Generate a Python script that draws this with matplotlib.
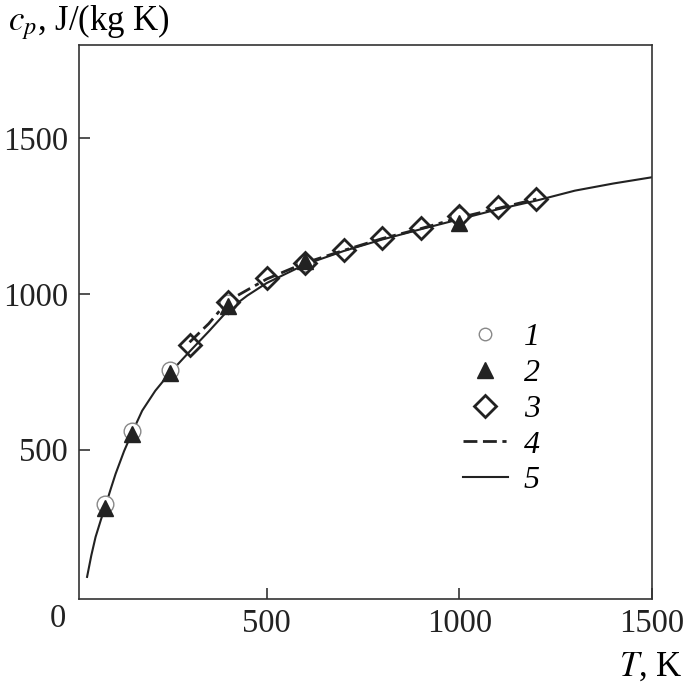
import matplotlib
matplotlib.use("Agg")
import matplotlib.pyplot as plt
from matplotlib.lines import Line2D

plt.rcParams['font.family'] = ['Liberation Serif', 'DejaVu Serif']
plt.rcParams['mathtext.fontset'] = 'stix'

# 1 - circles
t1 = [80, 150, 250, 400, 600, 1000]
cp1 = [325, 560, 755, 970, 1100, 1250]
# 2 - filled triangles
t2 = [80, 150, 250, 400, 600, 1000]
cp2 = [312, 550, 745, 960, 1105, 1228]
# 3 - diamonds
t3 = [300, 400, 500, 600, 700, 800, 900, 1000, 1100, 1200]
cp3 = [835, 975, 1050, 1100, 1142, 1180, 1212, 1252, 1280, 1304]
# 4 - dashed curve
t4 = [300, 350, 400, 500, 600, 700, 800, 900, 1000, 1100, 1200]
cp4 = [845, 905, 978, 1048, 1100, 1140, 1178, 1210, 1245, 1275, 1305]
# 5 - solid curve
t5 = [34, 45, 56, 70, 82, 95, 108, 130, 151, 177, 211, 250, 300, 350, 400, 450,
      500, 600, 700, 800, 900, 1000, 1100, 1200, 1300, 1400, 1500]
cp5 = [91, 160, 219, 275, 320, 372, 422, 495, 555, 625, 689, 748, 815, 880, 948, 995,
       1035, 1095, 1138, 1175, 1208, 1240, 1272, 1300, 1332, 1355, 1375]

legend_labels = ['1', '2', '3', '4', '5']

fig = plt.figure(figsize=(6.85, 6.92), dpi=100)
ax = fig.add_axes([0.1153, 0.1344, 0.8365, 0.8006])

dash4 = (5, 2, 5, 2, 1.5, 2)
ax.plot(t5, cp5, '-', color='#222222', lw=1.5)
ax.plot(t4, cp4, color='#222222', lw=2.0, dashes=dash4)
ax.plot(t1, cp1, 'o', ms=12, mfc='white', mec='#888888', mew=1.0)
ax.plot(t2, cp2, '^', ms=12, color='#222222')
ax.plot(t3, cp3, 'D', ms=11, mfc='none', mec='#222222', mew=2.0)

ax.set_xlim(13, 1500)
ax.set_ylim(20, 1800)
ax.set_xticks([500, 1000, 1500])
ax.set_yticks([500, 1000, 1500])
ax.tick_params(direction='in', length=8, width=1.1, labelsize=23.5, colors='#222222')
ax.tick_params(axis='x', pad=7)
ax.tick_params(axis='y', pad=8)
for s in ax.spines.values():
    s.set_linewidth(1.2)
    s.set_color('#333333')

handles = [
    Line2D([], [], ls='none', marker='o', ms=9, mfc='white', mec='#888888', mew=1.0),
    Line2D([], [], ls='none', marker='^', ms=12, color='#222222'),
    Line2D([], [], ls='none', marker='D', ms=11, mfc='none', mec='#222222', mew=2.0),
    Line2D([], [], color='#222222', lw=2.0, dashes=dash4),
    Line2D([], [], color='#222222', lw=1.5),
]
leg = ax.legend(handles, legend_labels, loc='upper left', bbox_to_anchor=(0.62, 0.55),
                frameon=False, handlelength=1.4, labelspacing=0.2, handletextpad=0.5,
                prop={'style': 'italic', 'size': 23})

fig.text(0.012, 0.968, r'$c_p$, J/(kg K)', fontsize=25, ha='left', va='center')
fig.text(0.997, 0.036, r'$T$, K', fontsize=25, ha='right', va='center')
fig.text(0.084, 0.106, '0', fontsize=23.5, ha='center', va='center', color='#222222')

fig.savefig('out.png', dpi=100)
